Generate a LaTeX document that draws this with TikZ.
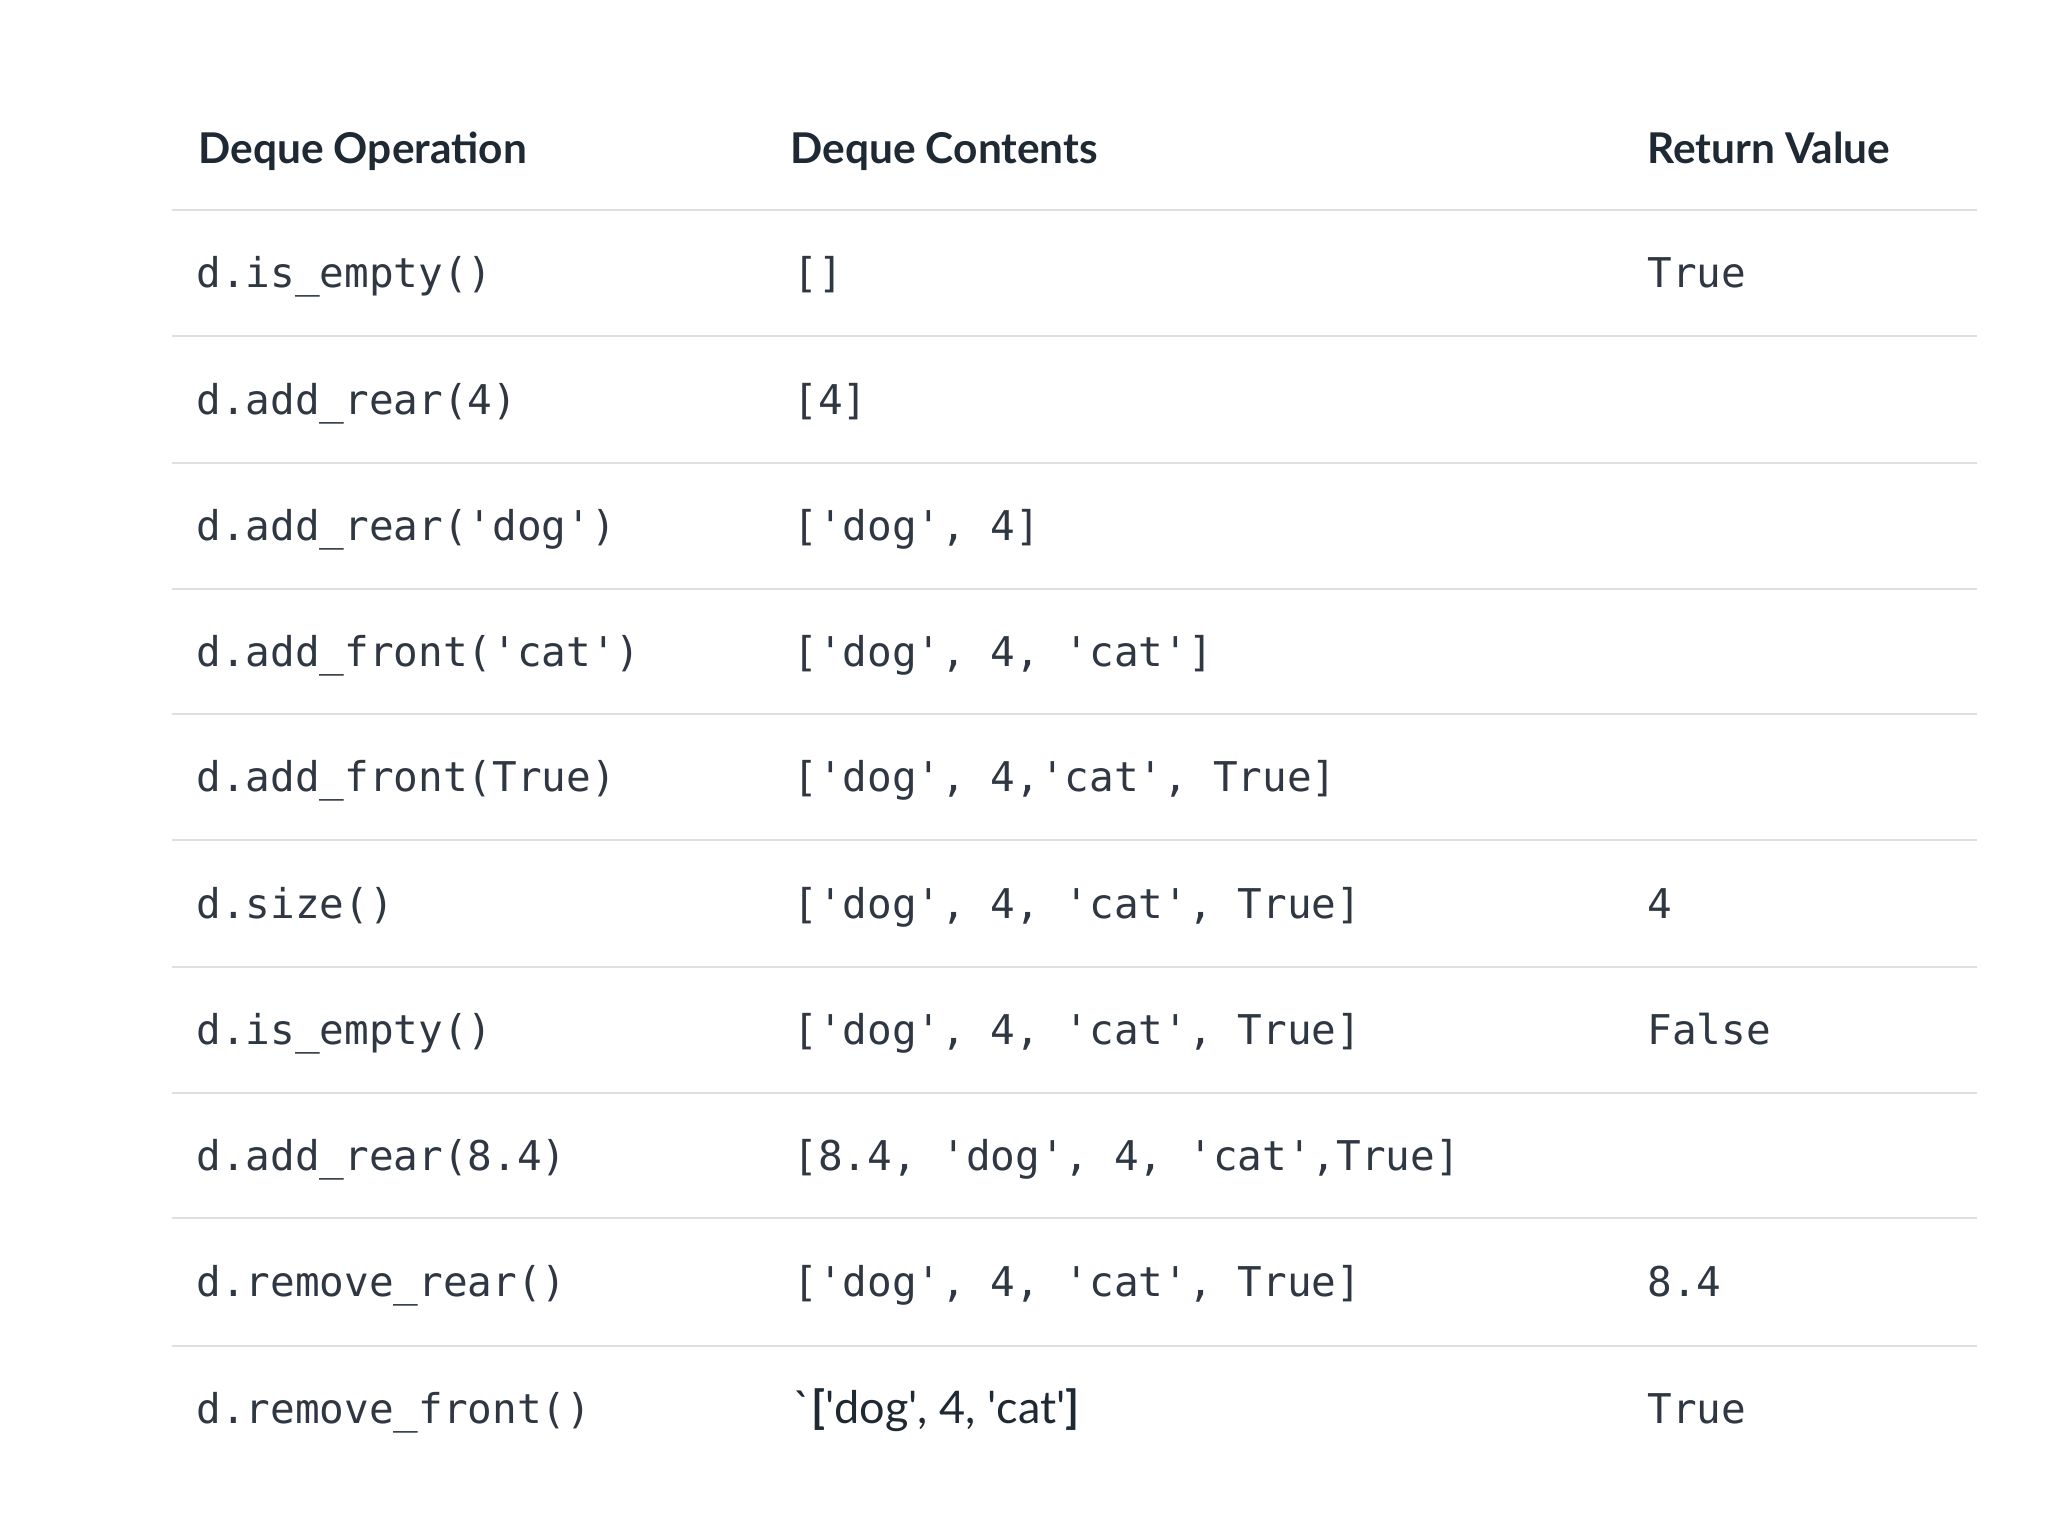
\documentclass[tikz,border=0pt]{standalone}
\usepackage{fontspec}
\setmainfont{Lato}
\setmonofont{DejaVu Sans Mono}
\definecolor{headink}{HTML}{1F2934}
\definecolor{cellink}{HTML}{2E3742}
\definecolor{ruleline}{HTML}{DEDFE3}

\begin{document}
\begin{tikzpicture}[x=.5pt, y=-.5pt,
  head/.style={anchor=base west, inner sep=0pt, text=headink, font=\fontsize{21.2}{26}\selectfont\bfseries},
  cell/.style={anchor=base west, inner sep=0pt, text=cellink, font=\fontsize{20.5}{24}\selectfont\ttfamily},
  plain/.style={anchor=base west, inner sep=0pt, text=headink, font=\fontsize{22.5}{26}\selectfont},
  rowline/.style={draw=ruleline, line width=1.3pt}]
\useasboundingbox[fill=white] (0,0) rectangle (2048,1536);

% header
\node[head] (hop) at (198,163) {Deque Operation};
\node[head] (hcont) at (790,163) {Deque Contents};
\node[head] (hret) at (1647,163) {Return Value};

% rules under each row
\draw[rowline] (172,210) -- (1977,210);
\draw[rowline] (172,336) -- (1977,336);
\draw[rowline] (172,463) -- (1977,463);
\draw[rowline] (172,589) -- (1977,589);
\draw[rowline] (172,714) -- (1977,714);
\draw[rowline] (172,840) -- (1977,840);
\draw[rowline] (172,967) -- (1977,967);
\draw[rowline] (172,1093) -- (1977,1093);
\draw[rowline] (172,1218) -- (1977,1218);
\draw[rowline] (172,1346) -- (1977,1346);

% operations
\node[cell] (op1) at (196,287) {d.is\_empty()};
\node[cell] (op2) at (196,414) {d.add\_rear(4)};
\node[cell] (op3) at (196,540) {d.add\_rear('dog')};
\node[cell] (op4) at (196,666) {d.add\_front('cat')};
\node[cell] (op5) at (196,791) {d.add\_front(True)};
\node[cell] (op6) at (196,918) {d.size()};
\node[cell] (op7) at (196,1044) {d.is\_empty()};
\node[cell] (op8) at (196,1170) {d.add\_rear(8.4)};
\node[cell] (op9) at (196,1296) {d.remove\_rear()};
\node[cell] (op10) at (196,1423) {d.remove\_front()};

% contents
\node[cell] (cont1) at (793,287) {[]};
\node[cell] (cont2) at (793,414) {[4]};
\node[cell] (cont3) at (793,540) {['dog', 4]};
\node[cell] (cont4) at (793,666) {['dog', 4, 'cat']};
\node[cell] (cont5) at (793,791) {['dog', 4,'cat', True]};
\node[cell] (cont6) at (793,918) {['dog', 4, 'cat', True]};
\node[cell] (cont7) at (793,1044) {['dog', 4, 'cat', True]};
\node[cell] (cont8) at (793,1170) {[8.4, 'dog', 4, 'cat',True]};
\node[cell] (cont9) at (793,1296) {['dog', 4, 'cat', True]};
\node[plain] (cont10) at (793,1423) {\textasciigrave{\bfseries[}\textquotesingle dog\textquotesingle, 4, \textquotesingle cat\textquotesingle{\bfseries]}};

% return values
\node[cell] (ret1) at (1647,287) {True};
\node[cell] (ret6) at (1647,918) {4};
\node[cell] (ret7) at (1647,1044) {False};
\node[cell] (ret9) at (1647,1296) {8.4};
\node[cell] (ret10) at (1647,1423) {True};
\end{tikzpicture}
\end{document}
